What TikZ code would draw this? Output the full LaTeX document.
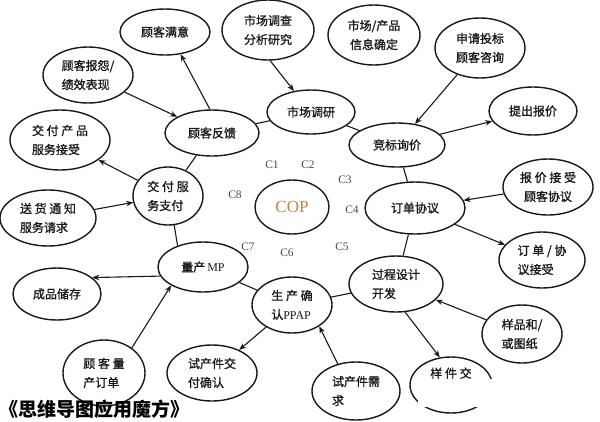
\documentclass[tikz,border=0pt]{standalone}
\usepackage{fontspec}
\setmainfont{Liberation Serif}
\newfontfamily\cjk{Noto Sans CJK SC}[FakeBold=1.2]
\newfontfamily\cjkt{Noto Sans CJK SC}
\usetikzlibrary{shapes.geometric,arrows.meta}
\tikzset{
  bub/.style={draw=black!90, line width=1.4pt, ellipse, inner sep=0pt,
    font=\cjk\fontsize{12}{19}\selectfont, text=black!90, align=center},
  bubl/.style={bub, align=left},
  sz/.style 2 args={minimum width=#1pt, minimum height=#2pt},
  lnk/.style={draw=black!90, line width=1.1pt},
  arr/.style={lnk, -{Stealth[length=7pt,width=5.5pt]}},
  clab/.style={font=\fontsize{11.5}{13}\selectfont, text=black!70},
}
\begin{document}
\begin{tikzpicture}[x=1pt,y=-1pt]
\fill[white] (0,0) rectangle (600,421);
\useasboundingbox (0,0) rectangle (600,421);

% nodes
\node[bub, sz={90}{46}] (manyi) at (165,32) {顾客满意};
\node[bub, sz={92}{60}] (diaocha) at (268,30) {市场调查\\分析研究};
\node[bub, sz={92}{60}] (xinxi) at (374,35) {市场/产品\\信息确定};
\node[bub, sz={90}{60}] (shenqing) at (480,48) {申请投标\\顾客咨询};
\node[bub, sz={88}{48}] (tichu) at (533,111) {提出报价};
\node[bub, sz={96}{44}] (jingbiao) at (397,145) {竞标询价};
\node[bub, sz={88}{44}] (diaoyan) at (311,112) {市场调研};
\node[bub, sz={94}{46}] (fankui) at (212,133) {顾客反馈};
\node[bubl, sz={90}{56}] (baoyuan) at (88,75) {顾客报怨/\\绩效表现};
\node[bubl, sz={100}{60}] (chanpin) at (60,140) {交 付 产 品\\服务接受};
\node[bubl, sz={70}{58}] (jiaofu) at (168,196) {交 付 服\\务支付};
\node[bubl, sz={96}{56}] (songhuo) at (48,218) {送 货 通 知\\服务请求};
\node[bub, sz={90}{50}] (mp) at (203,267) {量产\,{\rmfamily MP}};
\node[bub, sz={88}{52}] (chengpin) at (57,294) {成品储存};
\node[bubl, sz={82}{66}] (dinggou) at (104,373) {顾 客 量\\产订单};
\node[bubl, sz={90}{56}] (queren) at (212,373) {试产件交\\付确认};
\node[bubl, sz={80}{56}] (ppap) at (292,305) {生 产 确\\认{\rmfamily PPAP}};
\node[bubl, sz={94}{56}] (guocheng) at (396,284) {过程设计\\开发};
\node[bub, sz={100}{52}] (dingdan) at (415,208) {订单协议};
\node[bub, sz={90}{56}] (baojia) at (548,187) {报 价 接 受\\顾客协议};
\node[bubl, sz={86}{56}] (jieshou) at (542,260) {订 单 / 协\\议接受};
\node[bubl, sz={80}{58}] (yangpin) at (522,334) {样品和/\\或图纸};
\node[bubl, sz={88}{58}] (xuqiu) at (356,391) {试产件需\\求};
\node[bub, sz={82}{56}] (yangjian) at (451,385) {样 件 交\\\strut};
\node[draw=black!90, line width=1.4pt, ellipse, inner sep=0pt, sz={74}{54},
      font=\fontsize{17}{19}\selectfont, text={rgb,255:red,196;green,132;blue,58}] (cop) at (292,207) {COP};

% patch over part of the last bubble
\fill[white] (418,379) rectangle (500,407);

% C labels
\node[clab] (c1) at (272,165) {C1};
\node[clab] (c2) at (308,165) {C2};
\node[clab] (c3) at (345,180) {C3};
\node[clab] (c4) at (352,210) {C4};
\node[clab] (c5) at (342,247) {C5};
\node[clab] (c6) at (287,253) {C6};
\node[clab] (c7) at (248,247) {C7};
\node[clab] (c8) at (235,195) {C8};

% ring links
\draw[lnk] (fankui) -- (diaoyan);
\draw[lnk] (diaoyan) -- (jingbiao);
\draw[lnk] (jingbiao) -- (dingdan);
\draw[lnk] (dingdan) -- (guocheng);
\draw[lnk] (guocheng) -- (ppap);
\draw[lnk] (ppap) -- (mp);
\draw[lnk] (jiaofu.-78) -- (mp.140);
\draw[lnk] (jiaofu) -- (fankui);

% arrows
\draw[arr] (fankui.95) -- (manyi.-55);
\draw[arr] (baoyuan) -- (fankui);
\draw[arr] (diaocha.-86) -- (diaoyan.129);
\draw[arr] (shenqing) -- (jingbiao);
\draw[arr] (jingbiao) -- (tichu);
\draw[arr] (baojia) -- (dingdan);
\draw[arr] (dingdan) -- (jieshou);
\draw[arr] (yangpin) -- (guocheng);
\draw[arr] (guocheng.-72) -- (yangjian.112);
\draw[arr] (xuqiu.124) -- (ppap.-38);
\draw[arr] (ppap) -- (queren);
\draw[arr] (dinggou.42) -- (mp.-150);
\draw[arr] (mp.-168) -- (chengpin.25);
\draw[arr] (songhuo) -- (jiaofu);
\draw[arr] (jiaofu) -- (chanpin);

% title
\node[anchor=west, inner sep=0pt, font=\cjkt\bfseries\fontsize{19}{21}\selectfont] (title) at (-1,409) {《思维导图应用魔方》};
\end{tikzpicture}
\end{document}
